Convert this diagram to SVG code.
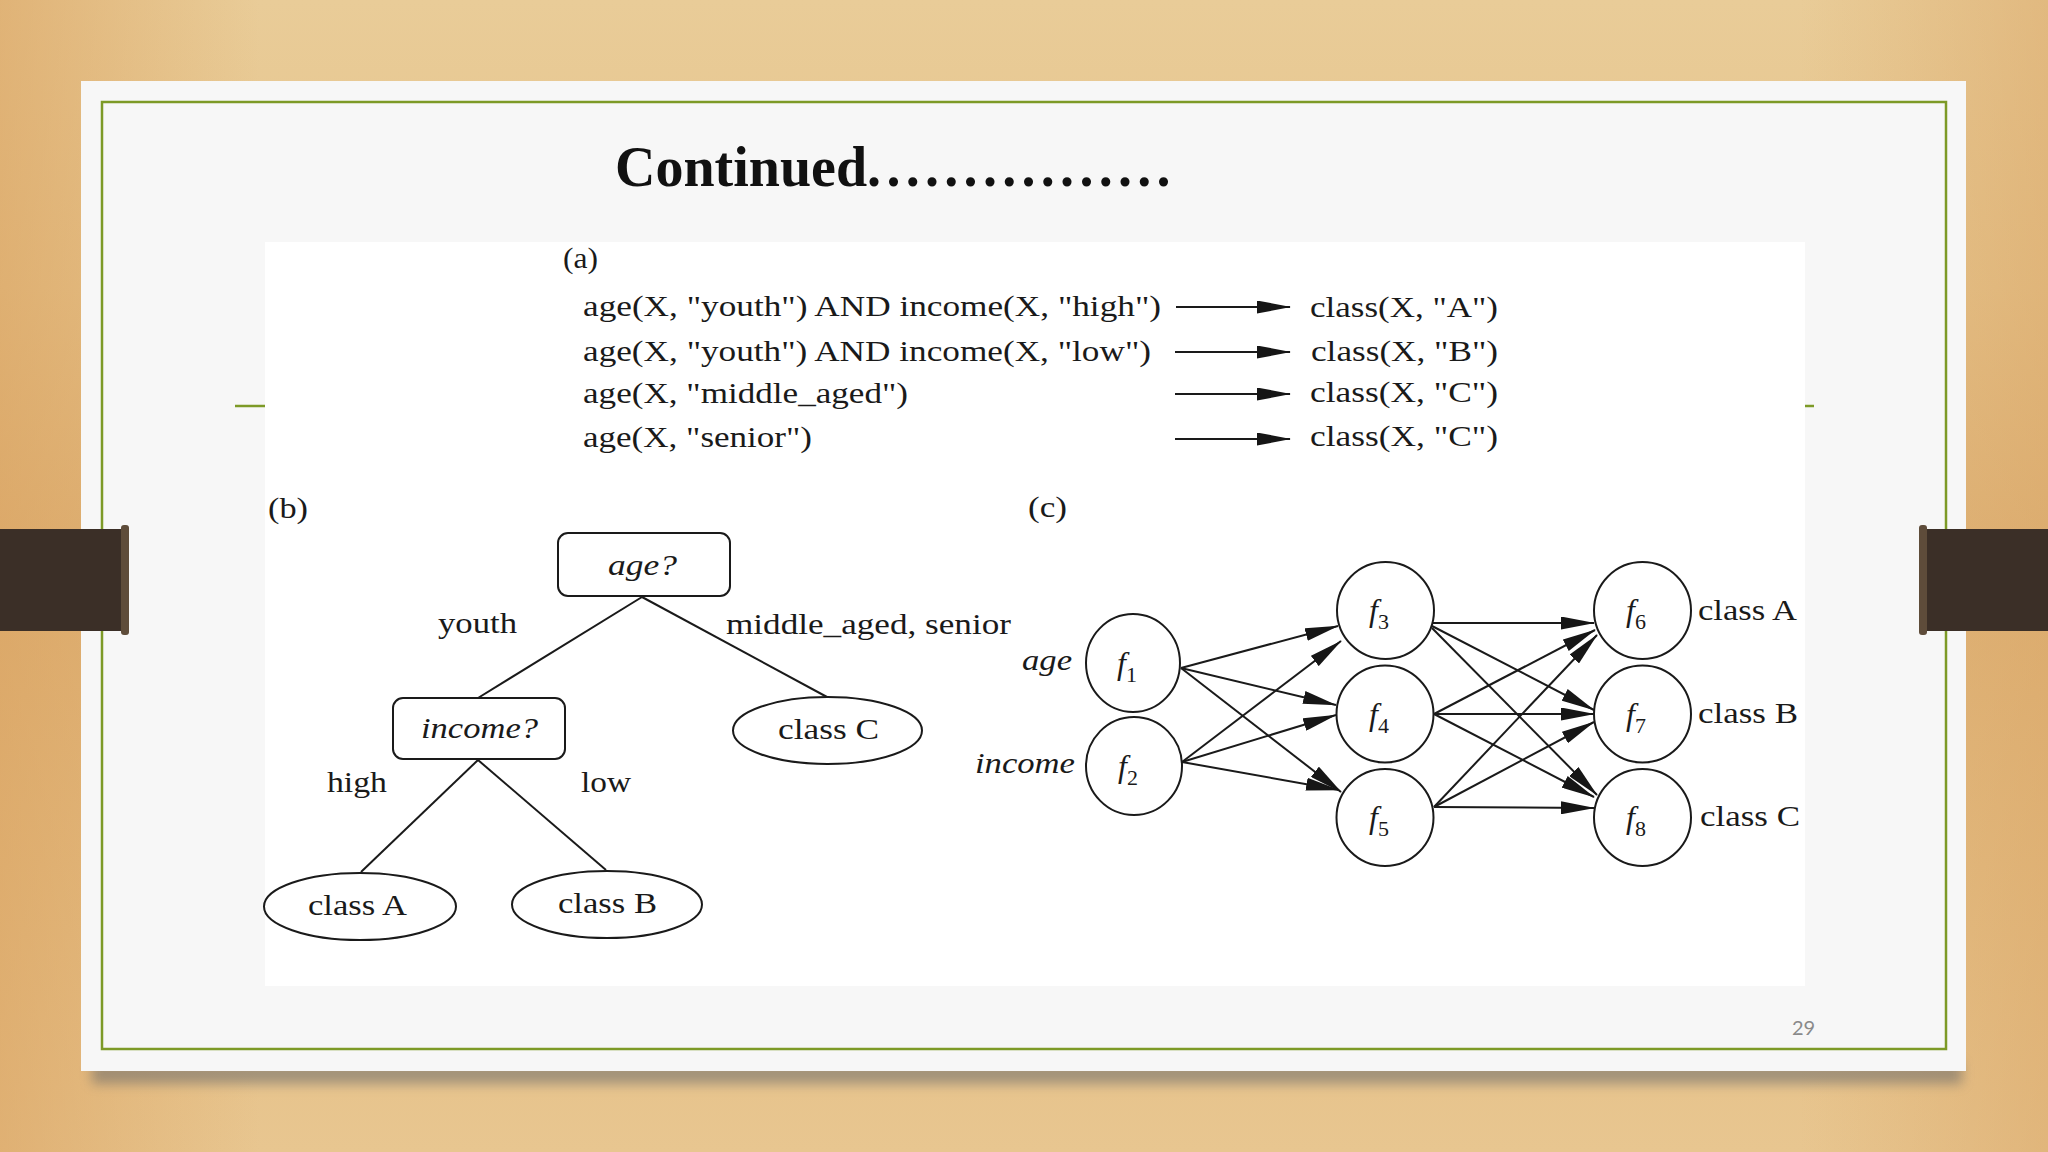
<svg xmlns="http://www.w3.org/2000/svg" width="2048" height="1152" viewBox="0 0 2048 1152">
<defs>
  <linearGradient id="wood" x1="0" y1="0" x2="0" y2="1">
    <stop offset="0" stop-color="#e9cc98"/>
    <stop offset="0.25" stop-color="#e6c48c"/>
    <stop offset="0.5" stop-color="#dfb377"/>
    <stop offset="0.75" stop-color="#e4bd83"/>
    <stop offset="1" stop-color="#e8c690"/>
  </linearGradient>
  <linearGradient id="woodL" x1="0" y1="0" x2="1" y2="0">
    <stop offset="0" stop-color="#d99f5c" stop-opacity="0.55"/>
    <stop offset="1" stop-color="#d99f5c" stop-opacity="0"/>
  </linearGradient>
  <linearGradient id="woodR" x1="1" y1="0" x2="0" y2="0">
    <stop offset="0" stop-color="#d8a262" stop-opacity="0.45"/>
    <stop offset="1" stop-color="#d8a262" stop-opacity="0"/>
  </linearGradient>
  <filter id="blur" x="-10%" y="-200%" width="120%" height="500%">
    <feGaussianBlur stdDeviation="6"/>
  </filter>
  <marker id="ah" markerWidth="34" markerHeight="13" refX="33" refY="6.5" orient="auto" markerUnits="userSpaceOnUse">
    <path d="M0,0 L34,6.5 L0,13 z" fill="#161616"/>
  </marker>
</defs>
<style>
  .t{font-family:"Liberation Serif","Times New Roman",serif;font-size:29px;fill:#1a1a1a}
  .i{font-style:italic}
  .f{font-family:"Liberation Serif","Times New Roman",serif;font-size:32px;font-style:italic;fill:#1a1a1a}
  .ln{stroke:#1a1a1a;stroke-width:2;fill:none}
  .ar{stroke:#1a1a1a;stroke-width:2;fill:none;marker-end:url(#ah)}
  .nd{fill:#ffffff;stroke:#1a1a1a;stroke-width:2}
  .sub{font-style:normal;font-size:22px}
</style>

<!-- background wood -->
<g id="background">
  <rect x="0" y="0" width="2048" height="1152" fill="url(#wood)"/>
  <rect x="0" y="0" width="260" height="1152" fill="url(#woodL)"/>
  <rect x="1800" y="0" width="248" height="1152" fill="url(#woodR)"/>
</g>

<!-- slide -->
<g id="slide">
  <rect x="92" y="1062" width="1870" height="22" fill="#6b6b6b" opacity="0.55" filter="url(#blur)"/>
  <rect x="81" y="81" width="1885" height="990" fill="#f7f7f7"/>
  <rect x="102" y="102" width="1844" height="947" fill="none" stroke="#7d9a27" stroke-width="2.5"/>
  <line x1="235" y1="406" x2="266" y2="406" stroke="#7d9a27" stroke-width="2.5"/>
  <line x1="1804" y1="406" x2="1814" y2="406" stroke="#7d9a27" stroke-width="2.5"/>
  <rect x="265" y="242" width="1540" height="744" fill="#ffffff"/>
</g>

<!-- binder bars -->
<g id="bars">
  <rect x="0" y="529" width="125" height="102" fill="#3b2f27"/>
  <rect x="121" y="525" width="8" height="110" rx="3" fill="#5e4c3a"/>
  <rect x="1923" y="529" width="125" height="102" fill="#3b2f27"/>
  <rect x="1919" y="525" width="8" height="110" rx="3" fill="#5e4c3a"/>
</g>

<!-- title -->
<g id="title">
  <text x="615" y="186" font-family="'Liberation Serif','Times New Roman',serif" font-size="56" font-weight="bold" fill="#111">Continued<tspan letter-spacing="5.3">................</tspan></text>
</g>

<!-- (a) rules -->
<g id="rules">
  <text class="t" x="563" y="268" textLength="35" lengthAdjust="spacingAndGlyphs">(a)</text>
  <text class="t" x="583" y="316" textLength="578" lengthAdjust="spacingAndGlyphs">age(X, "youth") AND income(X, "high")</text>
  <text class="t" x="583" y="361" textLength="568" lengthAdjust="spacingAndGlyphs">age(X, "youth") AND income(X, "low")</text>
  <text class="t" x="583" y="403" textLength="325" lengthAdjust="spacingAndGlyphs">age(X, "middle_aged")</text>
  <text class="t" x="583" y="447" textLength="229" lengthAdjust="spacingAndGlyphs">age(X, "senior")</text>
  <text class="t" x="1310" y="317" textLength="188" lengthAdjust="spacingAndGlyphs">class(X, "A")</text>
  <text class="t" x="1311" y="361" textLength="187" lengthAdjust="spacingAndGlyphs">class(X, "B")</text>
  <text class="t" x="1310" y="402" textLength="188" lengthAdjust="spacingAndGlyphs">class(X, "C")</text>
  <text class="t" x="1310" y="446" textLength="188" lengthAdjust="spacingAndGlyphs">class(X, "C")</text>
</g>

<!-- connectors -->
<g id="connectors">
  <!-- (a) arrows -->
  <line class="ar" x1="1176" y1="307" x2="1290" y2="307"/>
  <line class="ar" x1="1175" y1="352" x2="1290" y2="352"/>
  <line class="ar" x1="1175" y1="394" x2="1290" y2="394"/>
  <line class="ar" x1="1175" y1="439" x2="1290" y2="439"/>
  <!-- (b) tree edges -->
  <line class="ln" x1="642" y1="597" x2="478" y2="698"/>
  <line class="ln" x1="642" y1="597" x2="827" y2="697"/>
  <line class="ln" x1="478" y1="760" x2="361" y2="872"/>
  <line class="ln" x1="478" y1="760" x2="606" y2="870"/>
  <!-- (c) network edges -->
  <line class="ar" x1="1181" y1="668" x2="1338" y2="626"/>
  <line class="ar" x1="1181" y1="668" x2="1336" y2="705"/>
  <line class="ar" x1="1181" y1="668" x2="1341" y2="792"/>
  <line class="ar" x1="1182" y1="762" x2="1341" y2="641"/>
  <line class="ar" x1="1182" y1="762" x2="1336" y2="715"/>
  <line class="ar" x1="1182" y1="762" x2="1339" y2="790"/>
  <line class="ar" x1="1432" y1="623" x2="1594" y2="623"/>
  <line class="ar" x1="1432" y1="626" x2="1594" y2="710"/>
  <line class="ar" x1="1432" y1="628" x2="1597" y2="795"/>
  <line class="ar" x1="1434" y1="714" x2="1595" y2="630"/>
  <line class="ar" x1="1434" y1="714" x2="1594" y2="714"/>
  <line class="ar" x1="1434" y1="714" x2="1594" y2="797"/>
  <line class="ar" x1="1434" y1="807" x2="1597" y2="635"/>
  <line class="ar" x1="1434" y1="807" x2="1594" y2="722"/>
  <line class="ar" x1="1434" y1="807" x2="1594" y2="808"/>
</g>

<!-- (b) decision tree -->
<g id="tree-labels">
  <text class="t" x="268" y="518" textLength="40" lengthAdjust="spacingAndGlyphs">(b)</text>
  <text class="t" x="438" y="633" textLength="79" lengthAdjust="spacingAndGlyphs">youth</text>
  <text class="t" x="726" y="634" textLength="285" lengthAdjust="spacingAndGlyphs">middle_aged, senior</text>
  <text class="t" x="327" y="792" textLength="60" lengthAdjust="spacingAndGlyphs">high</text>
  <text class="t" x="581" y="792" textLength="50" lengthAdjust="spacingAndGlyphs">low</text>
</g>
<g id="node-age">
  <rect class="nd" x="558" y="533" width="172" height="63" rx="10"/>
  <text class="t i" x="608" y="575" textLength="69" lengthAdjust="spacingAndGlyphs">age?</text>
</g>
<g id="node-income">
  <rect class="nd" x="393" y="698" width="172" height="61" rx="10"/>
  <text class="t i" x="421" y="738" textLength="117" lengthAdjust="spacingAndGlyphs">income?</text>
</g>
<g id="node-classC-tree">
  <ellipse class="nd" cx="827.5" cy="730.5" rx="94.5" ry="33.5"/>
  <text class="t" x="778" y="739" textLength="101" lengthAdjust="spacingAndGlyphs">class C</text>
</g>
<g id="node-classA-tree">
  <ellipse class="nd" cx="360" cy="906.5" rx="96" ry="33.5"/>
  <text class="t" x="308" y="915" textLength="99" lengthAdjust="spacingAndGlyphs">class A</text>
</g>
<g id="node-classB-tree">
  <ellipse class="nd" cx="607" cy="904.5" rx="95" ry="33.5"/>
  <text class="t" x="558" y="913" textLength="99" lengthAdjust="spacingAndGlyphs">class B</text>
</g>

<!-- (c) network -->
<g id="net-labels">
  <text class="t" x="1028" y="517" textLength="39" lengthAdjust="spacingAndGlyphs">(c)</text>
  <text class="t i" x="1022" y="670" textLength="50" lengthAdjust="spacingAndGlyphs">age</text>
  <text class="t i" x="975" y="773" textLength="100" lengthAdjust="spacingAndGlyphs">income</text>
  <text class="t" x="1698" y="620" textLength="99" lengthAdjust="spacingAndGlyphs">class A</text>
  <text class="t" x="1698" y="723" textLength="100" lengthAdjust="spacingAndGlyphs">class B</text>
  <text class="t" x="1700" y="826" textLength="100" lengthAdjust="spacingAndGlyphs">class C</text>
</g>
<g id="node-f1">
  <ellipse class="nd" cx="1133" cy="663" rx="47" ry="49"/>
  <text class="f" x="1117" y="674">f<tspan class="sub" dy="8">1</tspan></text>
</g>
<g id="node-f2">
  <ellipse class="nd" cx="1134" cy="766" rx="48" ry="49"/>
  <text class="f" x="1118" y="777">f<tspan class="sub" dy="8">2</tspan></text>
</g>
<g id="node-f3">
  <ellipse class="nd" cx="1385.5" cy="610.5" rx="48.5" ry="48.5"/>
  <text class="f" x="1369" y="621">f<tspan class="sub" dy="8">3</tspan></text>
</g>
<g id="node-f4">
  <ellipse class="nd" cx="1385" cy="714" rx="48.5" ry="48.5"/>
  <text class="f" x="1369" y="725">f<tspan class="sub" dy="8">4</tspan></text>
</g>
<g id="node-f5">
  <ellipse class="nd" cx="1385" cy="817.5" rx="48.5" ry="48.5"/>
  <text class="f" x="1369" y="828">f<tspan class="sub" dy="8">5</tspan></text>
</g>
<g id="node-f6">
  <ellipse class="nd" cx="1642.5" cy="610.5" rx="48.5" ry="48.5"/>
  <text class="f" x="1626" y="621">f<tspan class="sub" dy="8">6</tspan></text>
</g>
<g id="node-f7">
  <ellipse class="nd" cx="1642.5" cy="714" rx="48.5" ry="48.5"/>
  <text class="f" x="1626" y="725">f<tspan class="sub" dy="8">7</tspan></text>
</g>
<g id="node-f8">
  <ellipse class="nd" cx="1642.5" cy="817.5" rx="48.5" ry="48.5"/>
  <text class="f" x="1626" y="828">f<tspan class="sub" dy="8">8</tspan></text>
</g>

<!-- page number -->
<g id="page-number">
  <text x="1792" y="1035" font-family="Lato,'Open Sans','Liberation Sans',sans-serif" font-size="20" fill="#8a8a8a">29</text>
</g>
</svg>
